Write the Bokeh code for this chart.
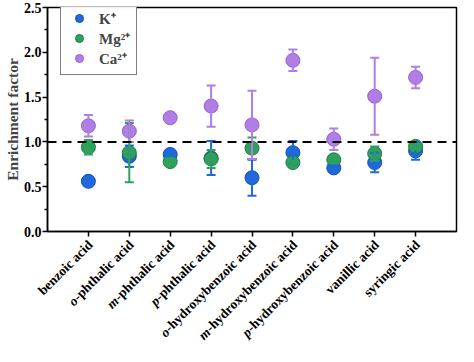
import math
from bokeh.plotting import figure
from bokeh.models import (ColumnDataSource, Whisker, TeeHead, FixedTicker, Span,
                          Legend, LegendItem, Range1d)
from bokeh.core.properties import value
from bokeh.embed import file_html
from bokeh.resources import INLINE

# category label = italic prefix + bold remainder
label_prefix = ["", "o", "m", "p", "o", "m", "p", "", ""]
label_rest = ["benzoic acid", "-phthalic acid", "-phthalic acid", "-phthalic acid",
              "-hydroxybenzoic acid", "-hydroxybenzoic acid", "-hydroxybenzoic acid",
              "vanillic acid", "syringic acid"]
positions = [1, 2, 3, 4, 5, 6, 7, 8, 9]

k_vals = [0.56, 0.84, 0.86, 0.82, 0.60, 0.88, 0.71, 0.77, 0.90]
k_err = [0.02, 0.12, 0.02, 0.19, 0.20, 0.13, 0.03, 0.11, 0.10]
mg_vals = [0.94, 0.88, 0.78, 0.81, 0.93, 0.77, 0.80, 0.87, 0.95]
mg_err = [0.08, 0.33, 0.02, 0.10, 0.12, 0.02, 0.03, 0.08, 0.03]
ca_vals = [1.18, 1.12, 1.27, 1.40, 1.19, 1.91, 1.03, 1.51, 1.72]
ca_err = [0.12, 0.12, 0.03, 0.23, 0.38, 0.12, 0.12, 0.43, 0.12]

y_ticks = [0, 0.5, 1.0, 1.5, 2.0, 2.5]
y_minor = [0.25, 0.75, 1.25, 1.75, 2.25]
y_tick_labels = ["0.0", "0.5", "1.0", "1.5", "2.0", "2.5"]

series = [
    ("K\u207a", k_vals, k_err, "#1f68de", "#1450b0"),
    ("Mg\u00b2\u207a", mg_vals, mg_err, "#2ea25c", "#1d7d42"),
    ("Ca\u00b2\u207a", ca_vals, ca_err, "#b07ee6", "#9460cc"),
]

FONT = "Liberation Serif"
FS = 13.5
X0, X1 = 0, 10
Y0, Y1 = 0, 2.5

# layout (pixels)
W, H = 458, 346
LEFT = 43
RIGHT = 2
TOP = 7
BOTTOM = 115
FRAME_W = W - LEFT - RIGHT
FRAME_H = H - TOP - BOTTOM

# Times/Liberation Serif Bold advance widths (per 1000 em) for label layout
BOLD_W = {" ": 250, "-": 333, "a": 500, "b": 556, "c": 444, "d": 556, "e": 444,
          "f": 333, "g": 500, "h": 556, "i": 278, "l": 278, "m": 833, "n": 556,
          "o": 500, "p": 556, "r": 444, "s": 389, "t": 333, "u": 556, "v": 500,
          "x": 500, "y": 500, "z": 444}


def text_width(s, size):
    return sum(BOLD_W.get(ch, 500) for ch in s) / 1000.0 * size


p = figure(width=W, height=H, x_range=Range1d(X0, X1), y_range=Range1d(Y0, Y1),
           output_backend="svg", toolbar_location=None,
           min_border_left=LEFT, min_border_right=RIGHT, min_border_top=TOP,
           min_border_bottom=BOTTOM)

p.xgrid.grid_line_color = None
p.ygrid.grid_line_color = None
p.outline_line_color = "black"
p.outline_line_width = 1.5
p.outline_line_alpha = 1.0

p.add_layout(Span(location=1.0, dimension="width", line_color="black",
                  line_width=2, line_dash="9 6"))

items = []
for name, vals, errs, col, edge in series:
    src = ColumnDataSource(dict(
        x=positions, y=vals,
        lo=[v - e for v, e in zip(vals, errs)],
        hi=[v + e for v, e in zip(vals, errs)]))
    w = Whisker(source=src, base="x", lower="lo", upper="hi",
                line_color=col, line_width=2,
                upper_head=TeeHead(size=9, line_color=col, line_width=2),
                lower_head=TeeHead(size=9, line_color=col, line_width=2))
    w.level = "glyph"
    p.add_layout(w)
    r = p.scatter("x", "y", source=src, size=14, fill_color=col, line_color=edge,
                  line_width=1)
    items.append(LegendItem(label=name, renderers=[r]))

legend = Legend(items=items, location=(13, FRAME_H - 68), margin=0,
                border_line_color="black", border_line_width=1.5,
                label_text_font=FONT, label_text_font_style="bold",
                label_text_font_size="15px", padding=6, spacing=0,
                label_standoff=8, glyph_width=24, glyph_height=20, label_height=20)
p.add_layout(legend)

# x axis: tick marks only (category labels are drawn as rotated text below)
p.xaxis.ticker = FixedTicker(ticks=positions)
p.xaxis.major_label_text_color = None
p.xaxis.major_label_text_font_size = "1px"
p.xaxis.major_label_standoff = 0
p.xaxis.minor_tick_line_color = None

p.yaxis.ticker = FixedTicker(ticks=y_ticks, minor_ticks=y_minor)
p.yaxis.major_label_overrides = {t: s for t, s in zip(y_ticks, y_tick_labels)}
p.yaxis.axis_label = "Enrichment factor"
for ax in (p.xaxis[0], p.yaxis[0]):
    ax.axis_line_width = 1.5
    ax.axis_line_color = "black"
    ax.major_tick_line_width = 1.5
    ax.major_tick_in = 0
    ax.major_tick_out = 5
    ax.minor_tick_in = 0
    ax.minor_tick_out = 3
    ax.minor_tick_line_width = 1.5
ay = p.yaxis[0]
ay.axis_label_text_font = FONT
ay.axis_label_text_font_style = "bold"
ay.axis_label_text_font_size = "15.5px"
ay.axis_label_standoff = 0
ay.major_label_text_font = FONT
ay.major_label_text_font_style = "bold"
ay.major_label_text_font_size = "14px"
ay.major_label_text_color = "black"
ay.major_label_standoff = 1

# ---- rotated category labels under the axis (overlay level: not clipped) ----
xs = (X1 - X0) / FRAME_W          # data units per pixel (x)
ys = (Y1 - Y0) / FRAME_H          # data units per pixel (y)
ang = math.pi / 4
c = math.cos(ang)
DY = 11     # gap below the axis line (px)
DX = 2      # horizontal nudge (px)

rest_x = [pos + DX * xs for pos in positions]
rest_y = [Y0 - DY * ys] * len(positions)
r1 = p.text(x=rest_x, y=rest_y, text=label_rest, angle=ang, text_align="right",
            text_baseline="middle", text_font=value(FONT),
            text_font_style=value("bold"), text_font_size=value(f"{FS}px"),
            text_color="black", level="overlay")

pre_x, pre_y, pre_t = [], [], []
for pos, pre, rest in zip(positions, label_prefix, label_rest):
    if pre:
        wr = text_width(rest, FS) + 0.5
        pre_x.append(pos + (DX - wr * c) * xs)
        pre_y.append(Y0 - (DY + wr * c) * ys)
        pre_t.append(pre)
r2 = p.text(x=pre_x, y=pre_y, text=pre_t, angle=ang, text_align="right",
            text_baseline="middle", text_font=value(FONT),
            text_font_style=value("bold italic"), text_font_size=value(f"{FS}px"),
            text_color="black", level="overlay")

open("out.html", "w").write(file_html(p, INLINE))
